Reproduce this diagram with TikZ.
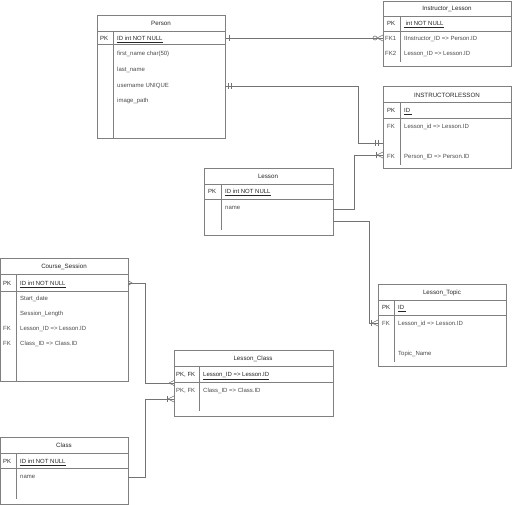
\documentclass[tikz,border=0pt]{standalone}
\usepackage{fontspec}
\setmainfont{Liberation Sans}
\begin{document}
\begin{tikzpicture}[x=1pt,y=-1pt,
  tbl/.style={draw=black!50, line width=0.6pt, inner sep=0pt, outer sep=0pt, anchor=north west},
  sep/.style={draw=black!50, line width=0.6pt},
  conn/.style={draw=black!55, line width=0.6pt},
  ttl/.style={font=\fontsize{6.2}{7}\selectfont, text=black!85, inner sep=0pt, text height=4.6pt, text depth=1.4pt, yshift=-1pt},
  fld/.style={font=\fontsize{6}{7}\selectfont, text=black!70, inner sep=0pt, anchor=west, text height=4.6pt, text depth=1.4pt, yshift=-1pt},
  key/.style={font=\fontsize{6}{7}\selectfont, text=black!85, inner sep=0pt, anchor=west, text height=4.6pt, text depth=1.4pt, yshift=-1pt}]
\useasboundingbox[fill=white] (0,0) rectangle (512,505);

% ---------- Person ----------
\node[tbl, minimum width=128pt, minimum height=123pt] (person) at (97,15) {};
\draw[sep] (97,31) -- (225,31) (97,44) -- (225,44) (113,31) -- (113,138);
\node[ttl] (personT) at (161,23) {Person};
\node[key] (personK) at (100,38) {PK};
\node[key] (personPK) at (117,38) {\underline{ID int NOT NULL}};
\node[fld] (person1) at (117,53) {first\_name char(50)};
\node[fld] (person2) at (117,69) {last\_name};
\node[fld] (person3) at (117,85) {username UNIQUE};
\node[fld] (person4) at (117,100) {image\_path};

% ---------- Instructor_Lesson ----------
\node[tbl, minimum width=128pt, minimum height=65pt] (il) at (383,1) {};
\draw[sep] (383,16) -- (511,16) (383,31) -- (511,31) (400,16) -- (400,62);
\node[ttl] (ilT) at (447,8) {Instructor\_Lesson};
\node[key] (ilK) at (387,23) {PK};
\node[key] (ilPK) at (404,23) {\underline{\ int NOT NULL}};
\node[fld] (ilF1k) at (385,38) {FK1};
\node[fld] (ilF1) at (404,38) {IInstructor\_ID => Person.ID};
\node[fld] (ilF2k) at (385,53) {FK2};
\node[fld] (ilF2) at (404,53) {Lesson\_ID => Lesson.ID};

% ---------- INSTRUCTORLESSON ----------
\node[tbl, minimum width=128pt, minimum height=82pt] (IL) at (383,86) {};
\draw[sep] (383,102) -- (511,102) (383,118) -- (511,118) (400,102) -- (400,165);
\node[ttl] (ILT) at (447,95) {INSTRUCTORLESSON};
\node[key] (ILK) at (387,110) {PK};
\node[key] (ILPK) at (404,110) {\underline{ID\ }};
\node[fld] (ILF1k) at (387,126) {FK};
\node[fld] (ILF1) at (404,126) {Lesson\_id => Lesson.ID};
\node[fld] (ILF2k) at (387,156) {FK};
\node[fld] (ILF2) at (404,156) {Person\_ID => Person.ID};

% ---------- Lesson ----------
\node[tbl, minimum width=129pt, minimum height=67pt] (lesson) at (204,168) {};
\draw[sep] (204,184) -- (333,184) (204,199) -- (333,199) (221,184) -- (221,230);
\node[ttl] (lessonT) at (268,176) {Lesson};
\node[key] (lessonK) at (208,191) {PK};
\node[key] (lessonPK) at (225,191) {\underline{ID int NOT NULL}};
\node[fld] (lesson1) at (225,207) {name};

% ---------- Lesson_Topic ----------
\node[tbl, minimum width=128pt, minimum height=82pt] (topic) at (378,284) {};
\draw[sep] (378,300) -- (506,300) (378,315) -- (506,315) (394,300) -- (394,362);
\node[ttl] (topicT) at (442,292) {Lesson\_Topic};
\node[key] (topicK) at (382,307) {PK};
\node[key] (topicPK) at (398,307) {\underline{ID\ }};
\node[fld] (topicFk) at (382,323) {FK};
\node[fld] (topic1) at (398,323) {Lesson\_id => Lesson.ID};
\node[fld] (topic2) at (398,353) {Topic\_Name};

% ---------- Course_Session ----------
\node[tbl, minimum width=128pt, minimum height=123pt] (cs) at (0,258) {};
\draw[sep] (0,274) -- (128,274) (0,291) -- (128,291) (16,274) -- (16,381);
\node[ttl] (csT) at (64,266) {Course\_Session};
\node[key] (csK) at (3,283) {PK};
\node[key] (csPK) at (20,283) {\underline{ID int NOT NULL}};
\node[fld] (cs1) at (20,298) {Start\_date};
\node[fld] (cs2) at (20,313) {Session\_Length};
\node[fld] (cs3k) at (3,328) {FK};
\node[fld] (cs3) at (20,328) {Lesson\_ID => Lesson.ID};
\node[fld] (cs4k) at (3,343) {FK};
\node[fld] (cs4) at (20,343) {Class\_ID => Class.ID};

% ---------- Lesson_Class ----------
\node[tbl, minimum width=159pt, minimum height=66pt] (lc) at (174,350) {};
\draw[sep] (174,366) -- (333,366) (174,382) -- (333,382) (199,366) -- (199,411);
\node[ttl] (lcT) at (253,358) {Lesson\_Class};
\node[key] (lcK) at (176,374) {PK, FK};
\node[key] (lcPK) at (203,374) {\underline{Lesson\_ID => Lesson.ID}};
\node[fld] (lc1k) at (176,390) {PK, FK};
\node[fld] (lc1) at (203,390) {Class\_ID => Class.ID};

% ---------- Class ----------
\node[tbl, minimum width=128pt, minimum height=67pt] (class) at (0,437) {};
\draw[sep] (0,453) -- (128,453) (0,468) -- (128,468) (16,453) -- (16,499);
\node[ttl] (classT) at (64,445) {Class};
\node[key] (classK) at (3,461) {PK};
\node[key] (classPK) at (20,461) {\underline{ID int NOT NULL}};
\node[fld] (class1) at (20,476) {name};

% ---------- connectors ----------
% Person.ID -> Instructor_Lesson.FK1
\coordinate (c1a) at (225,38);
\coordinate (c1b) at (383,38);
\draw[conn] (c1a) -- (c1b);
\draw[conn] (c1a) ++(4,-3) -- ++(0,6);
\draw[conn] (c1b) ++(-6,0) -- ++(6,-3) (c1b) ++(-6,0) -- ++(6,3);
\draw[conn] (c1b) ++(-8,0) circle (2);

% Person.username -> INSTRUCTORLESSON
\coordinate (c2a) at (225,86);
\coordinate (c2b) at (383,143);
\draw[conn] (c2a) -- (358,86) -- (358,143) -- (c2b);
\draw[conn] (c2a) ++(3,-3) -- ++(0,6) (c2a) ++(6,-3) -- ++(0,6);
\draw[conn] (c2b) ++(-5,-3) -- ++(0,6) (c2b) ++(-8,-3) -- ++(0,6);

% Lesson -> INSTRUCTORLESSON.Person_ID
\coordinate (c3a) at (333,209);
\coordinate (c3b) at (383,155);
\draw[conn] (c3a) -- (354,209) -- (354,155) -- (c3b);
\draw[conn] (c3b) ++(-6,0) -- ++(6,-3) (c3b) ++(-6,0) -- ++(6,3);
\draw[conn] (c3b) ++(-7,-3) -- ++(0,6);

% Lesson -> Lesson_Topic
\coordinate (c4a) at (333,221);
\coordinate (c4b) at (378,323);
\draw[conn] (c4a) -- (369,221) -- (369,323) -- (c4b);
\draw[conn] (c4b) ++(-6,0) -- ++(6,-3) (c4b) ++(-6,0) -- ++(6,3);
\draw[conn] (c4b) ++(-7,-3) -- ++(0,6);

% Course_Session -> Lesson_Class
\coordinate (c5a) at (128,283);
\coordinate (c5b) at (174,383);
\draw[conn] (c5a) -- (145,283) -- (145,383) -- (c5b);
\draw[conn] (c5a) ++(4,0) -- ++(-4,-2.5) (c5a) ++(4,0) -- ++(-4,2.5);
\draw[conn] (c5b) ++(-5,0) -- ++(5,-2.5) (c5b) ++(-5,0) -- ++(5,2.5);

% Class -> Lesson_Class
\coordinate (c6a) at (128,477);
\coordinate (c6b) at (174,399);
\draw[conn] (c6a) -- (145,477) -- (145,399) -- (c6b);
\draw[conn] (c6b) ++(-6,0) -- ++(6,-3) (c6b) ++(-6,0) -- ++(6,3);
\draw[conn] (c6b) ++(-7,-3) -- ++(0,6);
\end{tikzpicture}
\end{document}
